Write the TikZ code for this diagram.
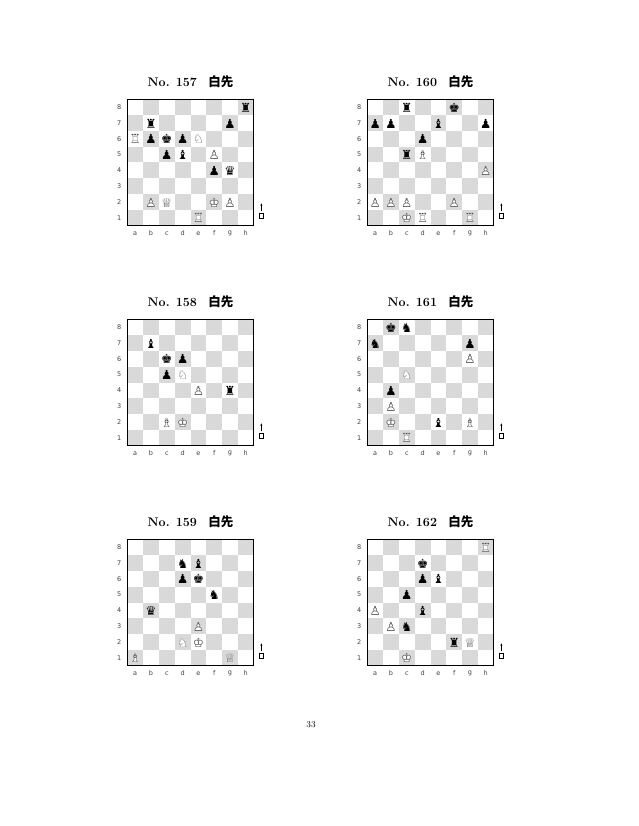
\documentclass[tikz,border=0pt]{standalone}
\usetikzlibrary{arrows.meta}
\usepackage{fontspec}
\setmainfont{Latin Modern Roman}
\newfontfamily\chessfont{DejaVu Sans}
\newfontfamily\cjk{Noto Sans CJK SC}
\newfontfamily\lblfont{DejaVu Sans}
\definecolor{darksq}{HTML}{D9D9D9}
\def\gwK{♔}\def\gwQ{♕}\def\gwR{♖}\def\gwB{♗}\def\gwN{♘}\def\gwP{♙}
\def\gbK{♚}\def\gbQ{♛}\def\gbR{♜}\def\gbB{♝}\def\gbN{♞}\def\gbP{♟}
\tikzset{
  piece/.style={font=\chessfont\fontsize{12.5}{12.5}\selectfont, inner sep=0pt},
  lbl/.style={font=\lblfont\fontsize{6.5}{7}\selectfont, text=black!75, inner sep=0pt},
  title/.style={font=\bfseries\fontsize{12.5}{14}\selectfont, inner sep=0pt},
}
\newcommand{\chessboard}[4]{%
  \begin{scope}[shift={(#1,#2)}]
    \def\s{15.8}
    \foreach \f in {1,...,8}{\foreach \r in {1,...,8}{
      \pgfmathparse{int(mod(\f+\r,2))}
      \ifnum\pgfmathresult=0
        \fill[darksq] ({(\f-1)*\s},{(8-\r)*\s}) rectangle ++(\s,\s);
      \fi}}
    \draw[line width=1.1pt] (0,0) rectangle (126.4,126.4);
    \foreach \r in {1,...,8}{\node[lbl] at (-8,{(8.5-\r)*\s}) {\r};}
    \foreach \f/\l in {1/a,2/b,3/c,4/d,5/e,6/f,7/g,8/h}{\node[lbl] at ({(\f-0.5)*\s},134) {\l};}
    \node[title] at (63.2,-18) {No. #3\hspace{0.9em}{\cjk 白先}};
    \foreach \c/\p/\f/\r in {#4}{
      \if w\c
        \node[piece,text=white] at ({(\f-0.5)*\s},{(8.5-\r)*\s+0.5}) {\csname gb\p\endcsname};
        \node[piece,text=black!70] at ({(\f-0.5)*\s},{(8.5-\r)*\s+0.5}) {\csname gw\p\endcsname};
      \else
        \node[piece] at ({(\f-0.5)*\s},{(8.5-\r)*\s+0.5}) {\csname gb\p\endcsname};
      \fi}
    \draw[line width=0.5pt,-{Stealth[length=2.5pt,width=2pt]}] (134,112) -- (134,104);
    \draw[line width=0.6pt] (131.6,114) rectangle (136.4,119);
  \end{scope}}
\begin{document}
\begin{tikzpicture}[x=1pt,y=-1pt]
\useasboundingbox (0,0) rectangle (638,826);
\chessboard{127.3}{99.3}{157}{b/R/8/8,b/R/2/7,b/P/7/7,w/R/1/6,b/P/2/6,b/K/3/6,b/P/4/6,w/N/5/6,b/P/3/5,b/B/4/5,w/P/6/5,b/P/6/4,b/Q/7/4,w/P/2/2,w/Q/3/2,w/K/6/2,w/P/7/2,w/R/5/1}
\chessboard{367.3}{99.3}{160}{b/R/3/8,b/K/6/8,b/P/1/7,b/P/2/7,b/B/5/7,b/P/8/7,b/P/4/6,b/R/3/5,w/B/4/5,w/P/8/4,w/P/1/2,w/P/2/2,w/P/3/2,w/P/6/2,w/K/3/1,w/R/4/1,w/R/7/1}
\chessboard{127.3}{319.3}{158}{b/B/2/7,b/K/3/6,b/P/4/6,b/P/3/5,w/N/4/5,w/P/5/4,b/R/7/4,w/B/3/2,w/K/4/2}
\chessboard{367.3}{319.3}{161}{b/K/2/8,b/N/3/8,b/N/1/7,b/P/7/7,w/P/7/6,w/N/3/5,b/P/2/4,w/P/2/3,w/K/2/2,b/B/5/2,w/B/7/2,w/R/3/1}
\chessboard{127.3}{539.3}{159}{b/N/4/7,b/B/5/7,b/P/4/6,b/K/5/6,b/N/6/5,b/Q/2/4,w/P/5/3,w/N/4/2,w/K/5/2,w/B/1/1,w/Q/7/1}
\chessboard{367.3}{539.3}{162}{w/R/8/8,b/K/4/7,b/P/4/6,b/B/5/6,b/P/3/5,w/P/1/4,b/B/4/4,w/P/2/3,b/N/3/3,b/R/6/2,w/Q/7/2,w/K/3/1}
\node[font=\fontsize{9}{10}\selectfont] (pg) at (311,725) {33};
\end{tikzpicture}
\end{document}
